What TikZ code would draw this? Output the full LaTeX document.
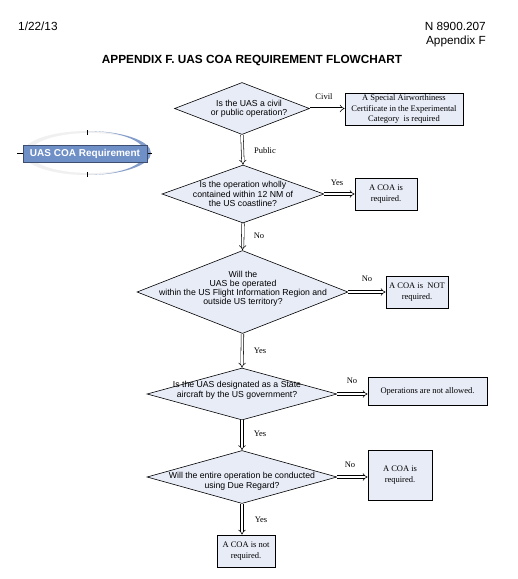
\documentclass[tikz,border=0pt]{standalone}
\usepackage{fontspec}
\setmainfont{Liberation Serif}
\newfontfamily\arial{Liberation Sans}
\usetikzlibrary{shapes.geometric,arrows.meta}
\definecolor{boxfill}{RGB}{232,236,247}
\definecolor{logoblue}{RGB}{111,143,199}
\definecolor{logoedge}{RGB}{62,78,112}
\definecolor{arcblue}{RGB}{130,156,204}
\tikzset{
  dia/.style={diamond, draw=black, line width=0.6pt, fill=boxfill, inner sep=0pt},
  qtext/.style={font=\arial\fontsize{8.7}{9.5}\selectfont, align=center, inner sep=0pt},
  box/.style={rectangle, draw=black, line width=0.7pt, fill=boxfill, align=center,
    font=\fontsize{8.5}{10.5}\selectfont, inner sep=0pt},
  lbl/.style={font=\fontsize{8.5}{10}\selectfont, inner sep=0pt},
  hdr/.style={font=\arial\fontsize{11.8}{14}\selectfont, inner sep=0pt},
  flow/.style={draw=black, line width=0.55pt, double=white, double distance=2pt, -{Implies[scale=1.35]}},
}
\begin{document}
\begin{tikzpicture}[x=1pt,y=-1pt]
\useasboundingbox[fill=white] (0,0) rectangle (518,579);

% header
\node[hdr, anchor=west] (date) at (18,26) {1/22/13};
\node[hdr, anchor=east] (num) at (486,26) {N 8900.207};
\node[hdr, anchor=east] (app) at (486,41) {Appendix F};
\node[hdr, font=\arial\bfseries\fontsize{11.8}{14}\selectfont] (title) at (252,61) {APPENDIX F. UAS COA REQUIREMENT FLOWCHART};

% logo
\fill[gray!12] (87,153) ellipse [x radius=64, y radius=22];
\fill[white] (90,153) ellipse [x radius=60, y radius=20];
\fill[arcblue] (87,131) arc[start angle=-90, end angle=90, x radius=64, y radius=22]
   arc[start angle=90, end angle=-90, x radius=58, y radius=22] -- cycle;
\draw[line width=0.7pt] (87,130) -- (87,135) (87,172) -- (87,177)
   (17,153.5) -- (23,153.5) (147,153.5) -- (152,153.5);
\node[draw=logoedge, line width=0.7pt, fill=logoblue, minimum width=124pt, minimum height=17pt,
  inner sep=0pt, text=white, font=\arial\bfseries\fontsize{10}{12}\selectfont] (logo) at (85,153.5) {UAS COA Requirement};

% diamonds
\node[dia, minimum width=135pt, minimum height=52pt] (d1) at (242,108.5) {};
\node[qtext] (d1t) at (249,108.5) {Is the UAS a civil\\ or public operation?};
\node[dia, minimum width=162pt, minimum height=58pt] (d2) at (243,194) {};
\node[qtext] (d2t) at (243,194) {Is the operation wholly\\contained within 12 NM of\\the US coastline?};
\node[dia, minimum width=211pt, minimum height=83pt] (d3) at (242.5,292) {};
\node[qtext, font=\arial\fontsize{8.7}{9}\selectfont] (d3t) at (243,288.5) {Will the\\UAS be operated\\within the US Flight Information Region and\\outside US territory?};
\node[dia, minimum width=190pt, minimum height=52pt] (d4) at (242,394) {};
\node[qtext] (d4t) at (237,390) {Is the UAS designated as a State\\aircraft by the US government?};
\node[dia, minimum width=190pt, minimum height=53pt] (d5) at (242,477) {};
\node[qtext] (d5t) at (242,481) {Will the entire operation be conducted\\using Due Regard?};

% boxes
\node[box, minimum width=118pt, minimum height=32pt] (b1) at (404,109) {A Special Airworthiness\\Certificate in the Experimental\\Category\ \ is required};
\node[box, minimum width=62pt, minimum height=32pt] (b2) at (386,194) {A COA is\\required.};
\node[box, minimum width=62pt, minimum height=32pt] (b3) at (417,292) {A COA is\ \ NOT\\required.};
\node[box, minimum width=119pt, minimum height=28pt] (b4) at (427.5,391) {Operations are not allowed.};
\node[box, minimum width=64pt, minimum height=50pt] (b5) at (400,475) {A COA is\\required.};
\node[box, minimum width=58pt, minimum height=32pt] (b6) at (246,551) {A COA is not\\required.};

% connectors
\draw[flow] (d1.east) -- (d1.east -| b1.west);
\draw[flow] (d1.south) -- (d2.north);
\draw[flow] (d2.east) -- (d2.east -| b2.west);
\draw[flow] (d2.south) -- (d3.north);
\draw[flow] (d3.east) -- (d3.east -| b3.west);
\draw[flow] (d3.south) -- (d4.north);
\draw[flow] (d4.east) -- (d4.east -| b4.west);
\draw[flow] (d4.south) -- (d5.north);
\draw[flow] (d5.east) -- (d5.east -| b5.west);
\draw[flow] (d5.south) -- (d5.south |- b6.north);

% labels
\node[lbl] (l1) at (324,97) {Civil};
\node[lbl] (l2) at (265,151) {Public};
\node[lbl] (l3) at (337,183) {Yes};
\node[lbl] (l4) at (259,236) {No};
\node[lbl] (l5) at (367,279) {No};
\node[lbl] (l6) at (260,351) {Yes};
\node[lbl] (l7) at (352,381) {No};
\node[lbl] (l8) at (260,434) {Yes};
\node[lbl] (l9) at (350,465) {No};
\node[lbl] (l10) at (261,520) {Yes};
\end{tikzpicture}
\end{document}
